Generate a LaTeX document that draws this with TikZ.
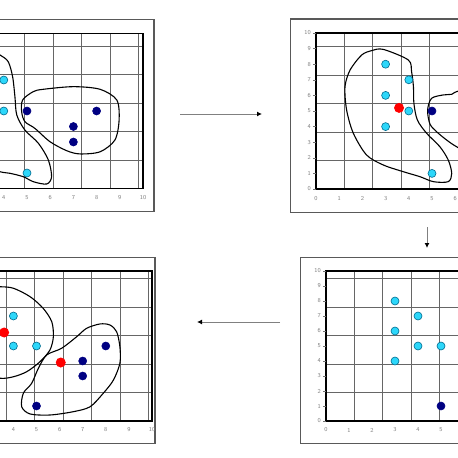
\documentclass[tikz,border=0pt]{standalone}
\usepackage{tikz}
\usetikzlibrary{arrows.meta}
\definecolor{ptcyan}{RGB}{45,215,250}
\definecolor{ptnavy}{RGB}{0,0,130}
\tikzstyle{cyanpt} = [draw=ptnavy!40!cyan!70!black, fill=ptcyan, shape=circle, minimum size=8pt, inner sep=0pt, line width=.6pt]
\tikzstyle{navypt} = [draw=ptnavy, fill=ptnavy, shape=circle, minimum size=8pt, inner sep=0pt, line width=.6pt]
\tikzstyle{centroid} = [fill=red, shape=circle, minimum size=10pt, inner sep=0pt]
\tikzstyle{blob} = [black, line width=1.1pt]
\tikzstyle{ticklbl} = [font=\fontsize{6}{6}\selectfont\sffamily, text=black!50, inner sep=0pt]
\tikzstyle{stepto} = [draw=black!50, line width=1pt, -{Latex[black,length=5pt,width=5pt]}]

% frame, grid and x labels of one panel; #1 = right edge, #2 = prefix, #3 = x labels
\newcommand{\gridpanel}[3]{
  \draw[black!65, line width=1.3pt] (-1.1,-1.5) rectangle (#1,10.9);
  \draw[black!60, line width=1pt] (0,0) grid (10,10);
  \draw[black, line width=1.5pt] (0,0) rectangle (10,10);
  \foreach \i in {#3}
    \node[ticklbl] (#2x\i) at (\i,-.6) {\i};
}
% y labels with small ticks; #1 = prefix
\newcommand{\ylabels}[1]{
  \foreach \i in {0,...,10} {
    \draw[black!55, line width=.6pt] (0,\i) -- ++(-.12,0);
    \node[ticklbl, anchor=east] (#1y\i) at (-.22,\i) {\i};
  }
}

\begin{document}
\begin{tikzpicture}[x=1pt, y=-1pt]
    \clip (0,0) rectangle (458,458);
    \fill[white] (0,0) rectangle (458,458);

    % top left
    \begin{scope}[shift={(-89,188.5)}, x=23.2pt, y=15.5pt]
        \gridpanel{10.47}{a}{4,...,10}
        \draw[blob] plot[smooth cycle] coordinates {(3.84,8.61) (4.19,8.18) (4.38,7.21) (4.48,5.92) (4.56,4.74) (4.91,3.77) (5.49,2.92) (5.92,1.84) (6.06,0.76) (5.85,0.29) (5.27,0.44) (4.84,0.76) (4.27,0.98) (3.84,1.08) (3,1.5) (2.2,2.5) (1.8,4) (1.7,6) (2,7.8) (2.6,8.8) (3.3,9)};
        \draw[blob] plot[smooth cycle] coordinates {(4.81,5.71) (5.27,6.25) (5.70,6.40) (7.00,6.57) (8.15,6.40) (8.87,5.71) (8.97,4.42) (8.79,3.13) (8.15,2.37) (7.28,2.23) (6.71,2.44) (5.99,3.02) (5.34,3.88) (4.91,4.31) (4.77,4.95)};
        \node[cyanpt] (a47) at (4,7) {};
        \node[cyanpt] (a45) at (4,5) {};
        \node[cyanpt] (a51) at (5,1) {};
        \node[navypt] (a55) at (5,5) {};
        \node[navypt] (a85) at (8,5) {};
        \node[navypt] (a74) at (7,4) {};
        \node[navypt] (a73) at (7,3) {};
    \end{scope}

    % top right
    \begin{scope}[shift={(316,189)}, x=23.2pt, y=15.6pt]
        \gridpanel{10.47}{b}{0,...,6}
        \ylabels{b}
        \draw[blob] plot[smooth cycle] coordinates {(2.90,8.95) (3.98,8.27) (4.12,7.52) (4.20,6.56) (4.22,5.49) (4.37,4.42) (4.77,3.57) (5.34,2.71) (5.70,1.86) (5.85,1.0) (5.70,0.47) (5.06,0.47) (4.48,0.79) (3.76,1.11) (2.90,1.54) (2.18,2.18) (1.61,3.57) (1.32,5.06) (1.25,6.56) (1.47,7.63) (1.97,8.59) (2.40,8.87)};
        \draw[blob] plot[smooth cycle] coordinates {(4.81,5.06) (4.98,5.81) (5.49,6.03) (5.85,6.07) (6.06,6.24) (7,6.6) (8.5,6.2) (9,4.5) (8.5,2.5) (7,2) (6.06,2.71) (5.63,3.14) (5.2,3.67) (4.91,4.17)};
        \node[cyanpt] (b38) at (3,8) {};
        \node[cyanpt] (b47) at (4,7) {};
        \node[cyanpt] (b36) at (3,6) {};
        \node[cyanpt] (b45) at (4,5) {};
        \node[cyanpt] (b34) at (3,4) {};
        \node[cyanpt] (b51) at (5,1) {};
        \node[navypt] (b55) at (5,5) {};
        \node[centroid] (bc1) at (3.58,5.2) {};
    \end{scope}

    % bottom left
    \begin{scope}[shift={(-79,421)}, x=23.1pt, y=15pt]
        \gridpanel{10.13}{c}{4,...,10}
        \draw[blob] plot[smooth cycle] coordinates {(3.42,8.95) (4.0,8.85) (4.72,8.29) (5.29,7.51) (5.66,6.62) (5.73,5.62) (5.58,4.73) (5.15,3.95) (4.58,3.29) (4.0,2.95) (3.42,2.85) (2.5,3.2) (1.7,4.5) (1.6,6.5) (2.2,8.2) (2.9,8.9)};
        \draw[blob] plot[smooth cycle] coordinates {(8.18,6.4) (8.47,5.95) (8.61,4.95) (8.61,3.85) (8.33,2.73) (7.89,1.85) (7.32,0.95) (6.59,0.62) (5.58,0.4) (4.72,0.47) (4.36,0.95) (4.43,1.85) (4.79,2.51) (5.08,3.51) (5.44,4.4) (6.09,4.85) (6.74,5.62) (7.17,6.18) (7.75,6.47)};
        \node[cyanpt] (c47) at (4,7) {};
        \node[cyanpt] (c45) at (4,5) {};
        \node[cyanpt] (c55) at (5,5) {};
        \node[navypt] (c85) at (8,5) {};
        \node[navypt] (c74) at (7,4) {};
        \node[navypt] (c73) at (7,3) {};
        \node[navypt] (c51) at (5,1) {};
        \node[centroid] (cc1) at (3.6,5.9) {};
        \node[centroid] (cc2) at (6.05,3.9) {};
    \end{scope}

    % bottom right
    \begin{scope}[shift={(326,421)}, x=23pt, y=15pt]
        \gridpanel{10.47}{d}{0,...,5}
        \ylabels{d}
        \node[cyanpt] (d38) at (3,8) {};
        \node[cyanpt] (d47) at (4,7) {};
        \node[cyanpt] (d36) at (3,6) {};
        \node[cyanpt] (d45) at (4,5) {};
        \node[cyanpt] (d55) at (5,5) {};
        \node[cyanpt] (d34) at (3,4) {};
        \node[navypt] (d51) at (5,1) {};
    \end{scope}

    % steps between panels
    \coordinate (s1) at (180,114);
    \coordinate (s2) at (262,114);
    \coordinate (s3) at (427,227);
    \coordinate (s4) at (427,248);
    \coordinate (s5) at (280,322);
    \coordinate (s6) at (197,322);
    \draw[stepto] (s1) -- (s2);
    \draw[stepto] (s3) -- (s4);
    \draw[stepto] (s5) -- (s6);
\end{tikzpicture}
\end{document}
